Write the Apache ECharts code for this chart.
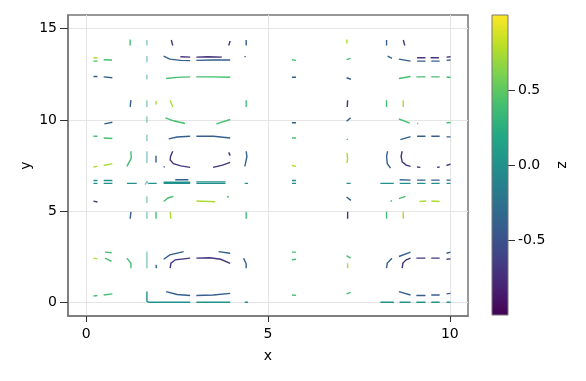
<!DOCTYPE html>
<html><head><meta charset="utf-8">
<script src="https://cdn.jsdelivr.net/npm/echarts@6/dist/echarts.min.js"></script>
<style>html,body{margin:0;padding:0;background:#fff}#c{width:586px;height:381px}</style>
</head><body><div id="c"></div>
<script>
// ---- data ----
const xTicks = [0, 5, 10];
const yTicks = [0, 5, 10, 15];
const zTicks = [-0.5, 0, 0.5];
const zRange = [-1, 1];

// contour levels (z value of each group of polylines)
const levelPurple = -0.7;
const levelBlue = -0.4;
const levelTeal = 0;
const levelPaleTeal = 0.1;
const levelGreen = 0.4;
const levelYellow = 0.75;

const purpleLines = [
  [[2.34,14.38],[2.38,14.08]], [[3.96,14.32],[3.92,14.08]],
  [[2.59,13.46],[2.86,13.44]], [[3.03,13.44],[3.35,13.46],[3.73,13.44]],
  [[8.72,14.38],[8.76,14.08]],
  [[9.10,13.41],[9.33,13.41]], [[9.47,13.41],[9.70,13.41]], [[9.91,13.44],[10.02,13.46]],
  [[2.38,8.28],[2.32,8.0],[2.31,7.8],[2.4,7.6],[2.6,7.48],[2.86,7.40]],
  [[3.49,7.40],[3.75,7.52],[3.96,7.67]], [[3.92,8.22],[3.96,8.04]],
  [[8.69,8.28],[8.66,8.0],[8.69,7.7],[8.8,7.52],[8.92,7.45]],
  [[9.10,7.42],[9.19,7.40]], [[9.65,7.40],[9.72,7.42]], [[9.91,7.50],[10.02,7.58]],
  [[0.20,5.55],[0.31,5.50]],
  [[7.19,4.96],[7.19,4.58]], [[7.19,11.08],[7.18,10.71]],
  [[2.31,1.87],[2.33,2.15],[2.45,2.33],[2.86,2.42]],
  [[3.03,2.42],[3.4,2.44],[3.7,2.36],[3.96,2.14]],
  [[8.69,1.87],[8.71,2.15],[8.8,2.33],[8.92,2.42]],
  [[9.08,2.42],[9.33,2.42]], [[9.49,2.42],[9.72,2.42]], [[9.91,2.36],[10.02,2.38]]
];

const blueLines = [
  [[4.40,14.38],[4.40,14.08]], [[8.26,14.38],[8.26,14.08]], [[4.36,13.50],[4.38,13.44]],
  [[2.13,13.50],[2.3,13.33],[2.6,13.26],[2.86,13.25]], [[3.03,13.26],[3.5,13.28],[3.96,13.28]],
  [[8.29,13.50],[8.41,13.37]], [[8.60,13.33],[8.92,13.22]], [[9.10,13.22],[9.33,13.22]],
  [[9.49,13.22],[9.72,13.22]], [[9.91,13.26],[10.02,13.28]],
  [[0.20,12.38],[0.31,12.38]], [[0.48,12.36],[0.72,12.31]],
  [[5.66,12.34],[5.77,12.34]], [[7.16,12.31],[7.28,12.23]],
  [[1.23,11.08],[1.21,10.71]],
  [[0.50,9.78],[0.72,9.87]],
  [[5.66,9.84],[5.77,9.84]], [[7.16,9.93],[7.27,10.11]],
  [[2.27,8.96],[2.5,9.06],[2.86,9.10]], [[3.03,9.10],[3.5,9.10],[3.96,9.01]],
  [[8.64,8.92],[8.92,9.08]], [[9.10,9.10],[9.33,9.10]], [[9.49,9.10],[9.72,9.10]], [[9.91,9.07],[10.02,9.07]],
  [[1.92,8.04],[1.92,7.67]],
  [[4.40,8.28],[4.42,8.0],[4.38,7.6],[4.36,7.45]],
  [[2.13,7.45],[2.16,7.40]],
  [[8.29,8.28],[8.26,8.0],[8.28,7.6],[8.37,7.36]],
  [[2.45,6.72],[2.81,6.72]],
  [[8.62,6.72],[8.92,6.70]], [[9.10,6.70],[9.33,6.70]], [[9.49,6.70],[9.72,6.70]], [[9.91,6.70],[10.02,6.70]],
  [[7.16,5.77],[7.28,5.59]],
  [[1.23,4.96],[1.21,4.58]],
  [[2.13,2.36],[2.3,2.6],[2.68,2.78]], [[3.64,2.78],[3.96,2.69]],
  [[1.92,2.05],[1.93,1.87]], [[4.33,2.42],[4.40,2.1],[4.40,1.87]],
  [[8.26,1.87],[8.28,2.15],[8.41,2.42]], [[8.60,2.51],[8.92,2.75]], [[9.91,2.69],[10.02,2.75]],
  [[2.20,0.59],[2.5,0.43],[2.86,0.37]], [[3.03,0.37],[3.5,0.40],[3.96,0.49]],
  [[8.60,0.59],[8.92,0.40]], [[9.08,0.37],[9.33,0.37]], [[9.49,0.40],[9.72,0.40]], [[9.91,0.46],[10.02,0.49]]
];

const tealLines = [
  [[1.67,0.59],[1.67,0.05],[1.72,0],[2.86,0]], [[3.03,0],[3.96,0]], [[4.36,0],[4.45,0]],
  [[8.09,0],[8.46,0]], [[8.62,0],[8.92,0]], [[9.08,0],[9.33,0]], [[9.49,0],[9.72,0]], [[9.91,0],[10.02,0]],
  [[0.20,6.68],[0.31,6.68]], [[0.20,6.52],[0.31,6.52]], [[0.48,6.68],[0.72,6.68]], [[0.48,6.52],[0.72,6.52]],
  [[1.12,6.52],[1.39,6.52]], [[1.72,6.52],[1.94,6.52]], [[2.13,6.58],[2.86,6.58]], [[2.13,6.52],[2.86,6.52]],
  [[3.03,6.60],[3.83,6.60]], [[3.03,6.52],[3.83,6.52]], [[4.36,6.52],[4.45,6.52]],
  [[5.66,6.68],[5.77,6.68]], [[5.66,6.52],[5.77,6.52]], [[7.16,6.52],[7.27,6.52]],
  [[8.09,6.52],[8.46,6.52]], [[8.62,6.52],[8.92,6.52]], [[9.10,6.52],[9.33,6.52]],
  [[9.49,6.52],[9.72,6.52]], [[9.91,6.52],[10.02,6.52]]
];

const paleTealLines = [
  [[1.67,14.38],[1.67,14.08]], [[1.67,13.50],[1.67,13.16]], [[1.67,12.49],[1.67,12.22]],
  [[1.67,11.08],[1.67,10.71]], [[1.67,10.20],[1.67,9.84]], [[1.67,9.19],[1.67,8.83]],
  [[1.67,8.28],[1.67,7.64]], [[1.62,6.45],[1.67,6.62],[1.72,6.48]], [[1.67,5.81],[1.67,5.44]],
  [[1.67,4.96],[1.67,4.58]], [[1.67,2.78],[1.67,1.87]]
];

const greenLines = [
  [[1.21,14.41],[1.21,14.08]],
  [[0.20,13.22],[0.31,13.22]], [[0.48,13.30],[0.71,13.28]],
  [[2.20,12.27],[2.5,12.33],[2.86,12.36]], [[3.03,12.36],[3.5,12.36],[3.96,12.34]],
  [[5.66,13.30],[5.77,13.26]], [[7.16,13.30],[7.27,13.37]],
  [[8.60,12.27],[8.92,12.38]], [[9.08,12.36],[9.33,12.36]], [[9.49,12.36],[9.72,12.36]], [[9.91,12.34],[10.02,12.34]],
  [[4.40,11.08],[4.40,10.71]], [[8.26,11.08],[8.26,10.71]],
  [[2.18,10.11],[2.4,9.95],[2.72,9.80]], [[3.58,9.78],[3.96,10.02]],
  [[8.60,10.05],[8.90,9.82]], [[9.10,9.80],[9.13,9.80]], [[9.91,9.84],[10.02,9.86]],
  [[0.20,9.10],[0.31,9.10]], [[0.48,9.01],[0.72,8.98]],
  [[5.66,9.01],[5.77,9.01]], [[7.17,8.96],[7.19,8.90]],
  [[1.23,8.28],[1.24,7.9],[1.12,7.45]],
  [[2.13,5.53],[2.25,5.72],[2.40,5.81]], [[3.87,5.81],[3.92,5.75]],
  [[8.37,5.53],[8.41,5.57]], [[8.60,5.68],[8.78,5.81]],
  [[1.92,4.96],[1.92,4.58]], [[4.40,4.96],[4.40,4.58]], [[8.26,4.96],[8.26,4.58]],
  [[0.52,2.75],[0.70,2.72]], [[0.52,2.42],[0.70,2.25]],
  [[1.12,2.42],[1.23,2.14],[1.23,1.87]],
  [[5.66,2.75],[5.77,2.75]], [[5.66,2.33],[5.77,2.36]], [[7.16,2.56],[7.27,2.42]],
  [[0.20,0.35],[0.31,0.37]], [[0.48,0.40],[0.72,0.46]],
  [[5.66,0.40],[5.77,0.38]], [[7.16,0.46],[7.27,0.55]]
];

const yellowLines = [
  [[0.20,13.41],[0.31,13.41]], [[7.17,14.41],[7.17,14.19]],
  [[2.31,11.08],[2.38,10.71]], [[8.72,11.08],[8.72,10.71]], [[1.92,11.03],[1.92,10.84]],
  [[0.20,7.42],[0.31,7.45]], [[0.48,7.50],[0.72,7.60]],
  [[7.17,8.19],[7.19,7.9],[7.17,7.64]], [[5.66,7.50],[5.77,7.45]],
  [[3.03,5.55],[3.55,5.51]], [[9.17,5.53],[9.35,5.55]], [[9.49,5.55],[9.72,5.53]],
  [[2.31,4.96],[2.33,4.58]], [[8.72,4.96],[8.72,4.58]],
  [[0.20,2.42],[0.31,2.38]], [[7.19,2.14],[7.19,1.87]]
];

// ---- style ----
const viridis = ['#440154','#482475','#414487','#355f8d','#2a788e','#21918c','#22a884','#44bf70','#7ad151','#bddf26','#fde725'];
function hex2rgb(h){return [parseInt(h.slice(1,3),16),parseInt(h.slice(3,5),16),parseInt(h.slice(5,7),16)];}
function zColor(z){
  let t = (z - zRange[0]) / (zRange[1] - zRange[0]);
  t = Math.max(0, Math.min(1, t)) * (viridis.length - 1);
  const i = Math.min(Math.floor(t), viridis.length - 2), f = t - i;
  const a = hex2rgb(viridis[i]), b = hex2rgb(viridis[i+1]);
  return 'rgb(' + a.map((v,k)=>Math.round(v + (b[k]-v)*f)).join(',') + ')';
}
const FONT = 'DejaVu Sans';
const groups = [
  {z: levelPurple, lines: purpleLines, op: 1},
  {z: levelBlue, lines: blueLines, op: 1},
  {z: levelTeal, lines: tealLines, op: 1},
  {z: levelPaleTeal, lines: paleTealLines, op: 0.55},
  {z: levelGreen, lines: greenLines, op: 1},
  {z: levelYellow, lines: yellowLines, op: 1}
];

const chart = echarts.init(document.getElementById('c'), null, {renderer: 'canvas'});
const series = groups.map(g => ({
  type: 'lines', coordinateSystem: 'cartesian2d', xAxisIndex: 0, yAxisIndex: 0,
  polyline: true, silent: true,
  lineStyle: {color: zColor(g.z), width: 1.4, opacity: g.op},
  data: g.lines.map(c => ({coords: c}))
}));
const gradStops = viridis.map((c,i)=>({offset: 1 - i/(viridis.length-1), color: c}));
series.push({
  type: 'custom', xAxisIndex: 1, yAxisIndex: 1, silent: true,
  data: [[0, zRange[0], 1, zRange[1]]],
  renderItem: function(params, api){
    const p0 = api.coord([api.value(0), api.value(1)]);
    const p1 = api.coord([api.value(2), api.value(3)]);
    return {type: 'rect', shape: {x: p0[0], y: p1[1], width: p1[0]-p0[0], height: p0[1]-p1[1]},
      style: {fill: new echarts.graphic.LinearGradient(0,0,0,1, gradStops), stroke: '#777', lineWidth: 1}};
  }
});

const frameLine = {show: true, onZero: false, lineStyle: {color: '#777', width: 1.5}};
chart.setOption({
  animation: false,
  backgroundColor: '#fff',
  grid: [
    {left: 68, top: 15, width: 400, height: 301, show: true, borderColor: '#777', borderWidth: 1.5, backgroundColor: '#fff'},
    {left: 492, top: 15, width: 16, height: 300}
  ],
  xAxis: [
    {type: 'value', gridIndex: 0, min: -0.5, max: 10.5, name: 'x', nameLocation: 'middle', nameGap: 33,
     nameMoveOverlap: false,
     nameTextStyle: {fontFamily: FONT, fontSize: 14, color: '#000'},
     axisLine: frameLine,
     axisTick: {show: true, length: 6, lineStyle: {color: '#333', width: 1}, customValues: xTicks},
     axisLabel: {customValues: xTicks, fontFamily: FONT, fontSize: 14, color: '#000', margin: 11},
     splitLine: {show: true, lineStyle: {color: '#e5e5e5', width: 1}}},
    {type: 'value', gridIndex: 1, min: 0, max: 1, show: false}
  ],
  yAxis: [
    {type: 'value', gridIndex: 0, min: -0.75, max: 15.75, name: 'y', nameLocation: 'middle', nameGap: 35, nameRotate: 90,
     nameMoveOverlap: false,
     nameTextStyle: {fontFamily: FONT, fontSize: 14, color: '#000'},
     axisLine: frameLine,
     axisTick: {show: true, length: 8, lineStyle: {color: '#333', width: 1}, customValues: yTicks},
     axisLabel: {customValues: yTicks, fontFamily: FONT, fontSize: 14, color: '#000', margin: 11},
     splitLine: {show: true, lineStyle: {color: '#e5e5e5', width: 1}}},
    {type: 'value', gridIndex: 1, min: zRange[0], max: zRange[1], position: 'right', name: 'z', nameLocation: 'middle',
     nameGap: 47, nameRotate: -90, nameMoveOverlap: false,
     nameTextStyle: {fontFamily: FONT, fontSize: 14, color: '#000'},
     axisLine: {show: false, onZero: false},
     axisTick: {show: true, length: 7, lineStyle: {color: '#333', width: 1}, customValues: zTicks},
     axisLabel: {customValues: zTicks, fontFamily: FONT, fontSize: 14, color: '#000', margin: 10,
       formatter: v => v.toFixed(1)},
     splitLine: {show: false}}
  ],
  series: series
});
</script></body></html>
